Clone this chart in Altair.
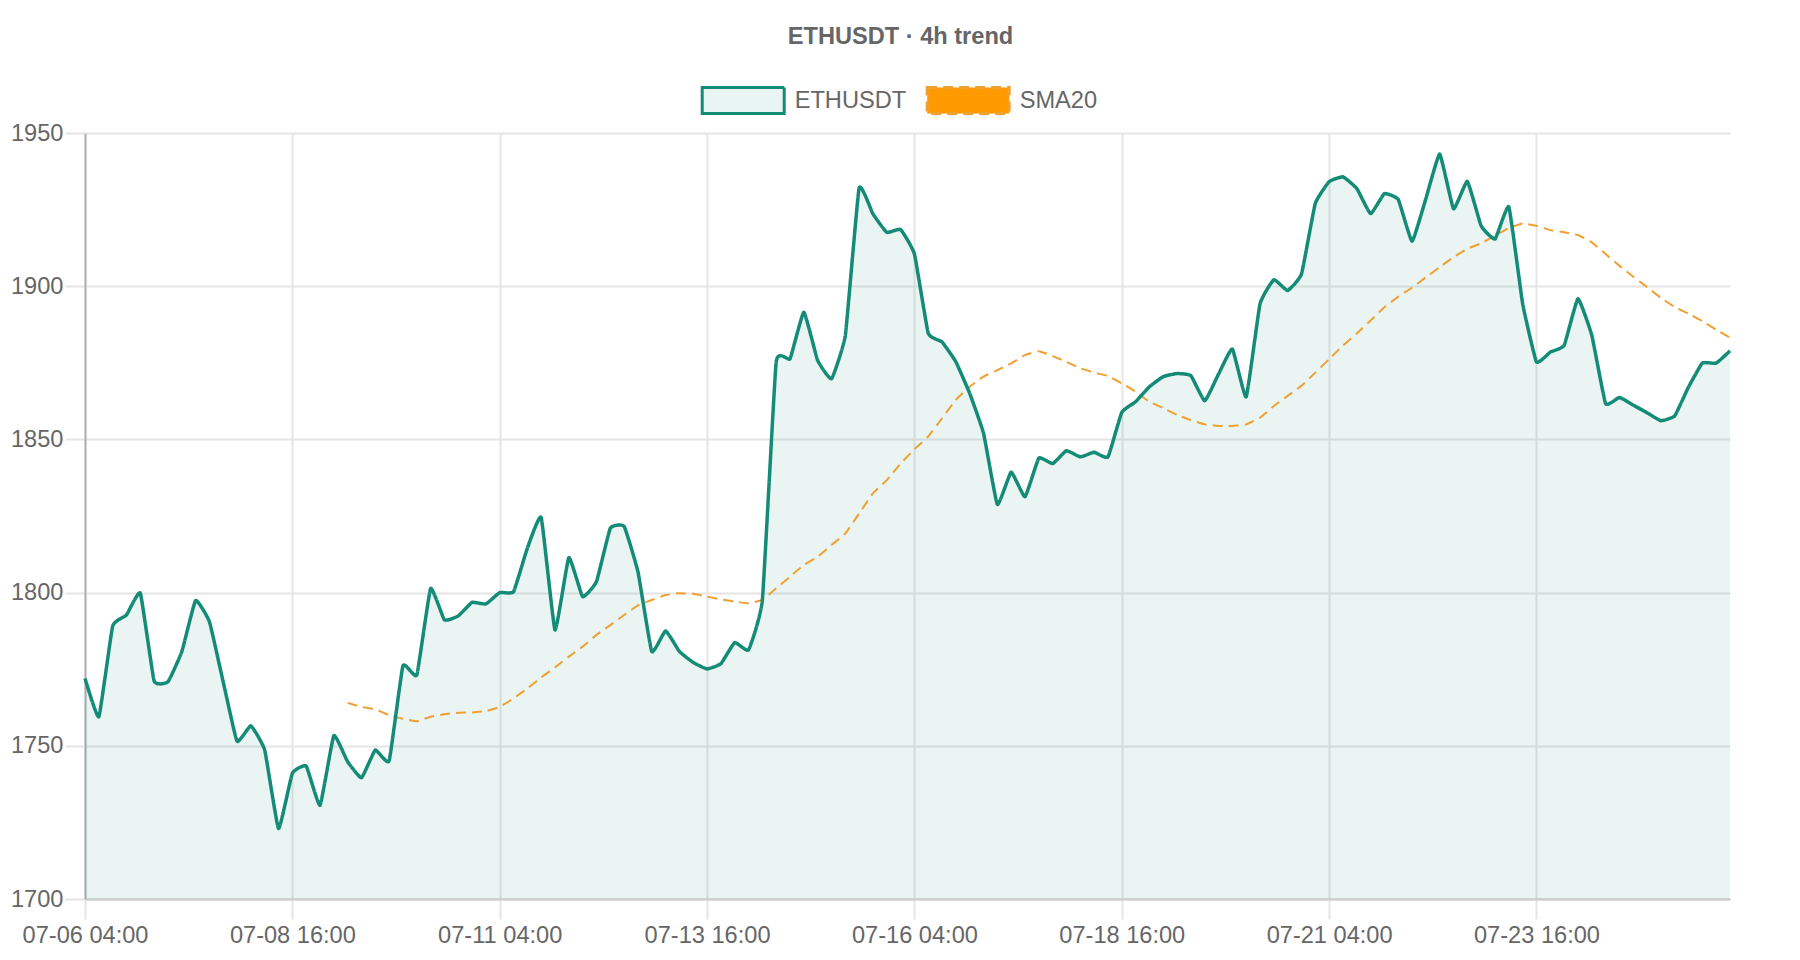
import altair as alt
import pandas as pd

# ---- data (4h candles, close) ----
eth = [
    1772, 1759.5, 1789, 1792.7, 1799.8, 1771.2, 1770.9, 1780.7, 1797.4, 1790.5,
    1770.8, 1751.5, 1756.5, 1748.6, 1723, 1741, 1743.4, 1730.6, 1753.3, 1744.8,
    1739.6, 1748.6, 1745.1, 1776.1, 1773.1, 1801.3, 1791.1, 1792.4, 1796.8, 1796.3,
    1800, 1800.3, 1814.5, 1824.5, 1787.8, 1811.4, 1798.7, 1803.6, 1821, 1821.6,
    1806.8, 1780.8, 1787.5, 1780.8, 1777.2, 1775.1, 1776.8, 1783.7, 1781.3, 1797.6,
    1875.2, 1876.3, 1891.5, 1875.8, 1869.8, 1883.9, 1932, 1923.6, 1917.6, 1918.5,
    1910.5, 1884.7, 1881.8, 1875.3, 1865, 1852, 1828.8, 1839.3, 1831.3, 1843.9,
    1842.1, 1846.3, 1844.3, 1845.8, 1844.3, 1858.8, 1862.3, 1867.2, 1870.5, 1871.5,
    1870.8, 1862.6, 1871.3, 1879.5, 1863.9, 1894.2, 1902.1, 1898.6, 1904, 1927,
    1934.1, 1935.7, 1931.9, 1923.7, 1930.2, 1928.3, 1914.7, 1928.6, 1943.1, 1925.3,
    1934.2, 1919.7, 1915.4, 1925.9, 1894.3, 1875.3, 1878.5, 1880.7, 1895.9, 1884,
    1861.7, 1863.7, 1861.2, 1858.7, 1856.1, 1857.7, 1867.1, 1874.9, 1874.9, 1878.9,
]

sma_start = 19
sma20 = [
    1764, 1762.7, 1761.9, 1760, 1758.8, 1758, 1759.5, 1760.3, 1760.8, 1760.9,
    1761.3, 1762.7, 1765.5, 1768.7, 1772.3, 1775.6, 1779.1, 1782.4, 1786.2, 1789.4,
    1792.7, 1795.8, 1797.6, 1799.2, 1799.8, 1799.6, 1798.7, 1797.8, 1797.1, 1796.5,
    1797.6, 1801.4, 1805.2, 1809, 1811.7, 1815.5, 1819.3, 1825.8, 1832.4, 1836.7,
    1842.1, 1846.8, 1851, 1856.9, 1862.9, 1867.2, 1870.5, 1872.6, 1874.8, 1877.5,
    1878.8, 1877.2, 1875.3, 1873.2, 1871.8, 1870.7, 1868.3, 1865.6, 1862.3, 1860.2,
    1858, 1856.3, 1854.9, 1854.4, 1854.4, 1854.9, 1857.1, 1860.9, 1864.2, 1867.5,
    1871.8, 1876.2, 1880.6, 1884.6, 1888.8, 1893.1, 1896.6, 1899.5, 1902.9, 1906.2,
    1909.5, 1912.2, 1914, 1916.5, 1919, 1920.5, 1919.7, 1918.3, 1917.6, 1916.7,
    1914.3, 1910.5, 1906.7, 1903.1, 1899.7, 1896.2, 1893.2, 1891, 1888.6, 1885.8,
    1883.2,
]

tick_labels = ["07-06 04:00", "07-08 16:00", "07-11 04:00", "07-13 16:00",
               "07-16 04:00", "07-18 16:00", "07-21 04:00", "07-23 16:00"]
tick_step = 15
y_ticks = [1700, 1750, 1800, 1850, 1900, 1950]
series = ["ETHUSDT", "SMA20"]

df = pd.DataFrame({"i": list(range(len(eth))), "price": eth, "series": series[0]})
df_sma = pd.DataFrame({"i": list(range(sma_start, sma_start + len(sma20))), "sma": sma20,
                       "series": series[1]})

TEAL = "#148b77"
ORANGE_LINE = "#f0a030"
ORANGE_FILL = "#ff9900"
TXT = "#666666"
GRID = "#e5e5e5"
FONT = "Liberation Sans"
FS = 23.6
TENSION = 0.65

label_expr = "[" + ",".join(f"'{t}'" for t in tick_labels) + f"][round(datum.value/{tick_step})]"

x_scale = alt.Scale(domain=[0, len(eth) - 1], nice=False, zero=False)
y_scale = alt.Scale(domain=[y_ticks[0], y_ticks[-1]], nice=False, zero=False)

x_axis = alt.Axis(values=[k * tick_step for k in range(len(tick_labels))], labelExpr=label_expr,
                  title=None, labelFontSize=FS, labelColor=TXT, labelFont=FONT, labelPadding=4,
                  tickSize=20, tickColor=GRID, tickWidth=2, gridColor=GRID, gridWidth=2,
                  domainColor="#cccccc", domainWidth=2, labelFlush=False, labelOverlap=False)
y_axis = alt.Axis(values=y_ticks, format="d", title=None, labelFontSize=FS, labelColor=TXT,
                  labelFont=FONT, labelPadding=2, tickSize=20, tickColor=GRID, tickWidth=2,
                  gridColor=GRID, gridWidth=2, domainColor="#b0b0b0", domainWidth=2,
                  labelFlush=False)

X = alt.X("i:Q", scale=x_scale, axis=x_axis)

legend = alt.Legend(
    title=None, orient="none", direction="horizontal", legendX=615.7, legendY=-75.2,
    symbolType="M-1,-0.317H1V0.317H-1Z", symbolSize=6724, symbolStrokeWidth=3,
    symbolFillColor={"expr": f"datum.value === '{series[0]}' ? '#e8f5f2' : '{ORANGE_FILL}'"},
    labelFontSize=FS, labelColor=TXT, labelFont=FONT, labelOffset=9, columnPadding=14,
    padding=0, labelLimit=400,
)
color_scale = alt.Scale(domain=series, range=[TEAL, ORANGE_LINE])
dash_scale = alt.Scale(domain=series, range=[[1, 0], [10, 6]])

area = alt.Chart(df).mark_area(fill=TEAL, fillOpacity=0.09, interpolate="cardinal", tension=TENSION).encode(
    x=X,
    y=alt.Y("price:Q", scale=y_scale, axis=y_axis),
    y2=alt.datum(y_ticks[0]),
)

sma_line = alt.Chart(df_sma).mark_line(strokeWidth=2, interpolate="cardinal", tension=TENSION).encode(
    x=X,
    y=alt.Y("sma:Q", scale=y_scale, axis=y_axis),
    color=alt.Color("series:N", scale=color_scale, legend=legend),
    strokeDash=alt.StrokeDash("series:N", scale=dash_scale, legend=legend),
)

eth_line = alt.Chart(df).mark_line(strokeWidth=3.5, interpolate="cardinal", tension=TENSION).encode(
    x=X,
    y=alt.Y("price:Q", scale=y_scale, axis=y_axis),
    color=alt.Color("series:N", scale=color_scale, legend=legend),
    strokeDash=alt.StrokeDash("series:N", scale=dash_scale, legend=legend),
)

chart = alt.layer(area, sma_line, eth_line).properties(
    width=1645, height=766,
    autosize=alt.AutoSizeParams(type="none"),
    padding={"left": 77, "top": 125, "right": 62, "bottom": 53},
    title=alt.TitleParams(text="ETHUSDT · 4h trend", fontSize=FS, fontWeight="bold", color=TXT,
                          font=FONT, anchor="middle", dx=-7, dy=24, offset=14, baseline="alphabetic"),
    background="white",
).configure_view(stroke=None)

chart.save("out.html", embed_options={"renderer": "svg", "actions": False})
